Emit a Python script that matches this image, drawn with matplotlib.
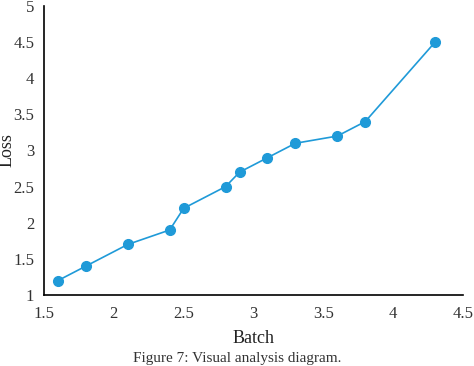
import matplotlib.pyplot as plt

batch = [1.6, 1.8, 2.1, 2.4, 2.5, 2.8, 2.9, 3.1, 3.3, 3.6, 3.8, 4.3]
loss = [1.2, 1.4, 1.7, 1.9, 2.2, 2.5, 2.7, 2.9, 3.1, 3.2, 3.4, 4.5]
xticks = [1.5, 2, 2.5, 3, 3.5, 4, 4.5]
yticks = [1, 1.5, 2, 2.5, 3, 3.5, 4, 4.5, 5]

plt.rcParams["font.family"] = ["Liberation Serif", "DejaVu Serif"]

fig = plt.figure(figsize=(4.74, 3.66), dpi=100)
ax = fig.add_axes([44 / 474, 1 - 295 / 366, (463 - 44) / 474, (295 - 6) / 366])

ax.plot(batch, loss, color="#1f9ad8", lw=1.2, marker="o", ms=7, clip_on=False)

ax.set_xlim(1.5, 4.5); ax.set_ylim(1, 5)
ax.set_xticks(xticks); ax.set_yticks(yticks)
ax.set_xticklabels([f"{t:g}" for t in xticks], fontsize=12, color="#333333")
ax.set_yticklabels([f"{t:g}" for t in yticks], fontsize=12, color="#333333")
ax.tick_params(axis="x", length=0, pad=8)
ax.tick_params(axis="y", length=0, pad=7)
for s in ("top", "right"):
    ax.spines[s].set_visible(False)
for s in ("left", "bottom"):
    ax.spines[s].set_linewidth(1.2)
ax.set_xlabel("Batch", fontsize=13, color="#222222")
ax.xaxis.set_label_coords(0.5, -0.12)
ax.set_ylabel("Loss", fontsize=13, color="#222222")
ax.yaxis.set_label_coords(-0.068, 0.5)

fig.text(0.5, 0.003, "Figure 7: Visual analysis diagram.", fontsize=11, color="#333333",
         ha="center", va="bottom")

fig.savefig("out.png", dpi=100)
